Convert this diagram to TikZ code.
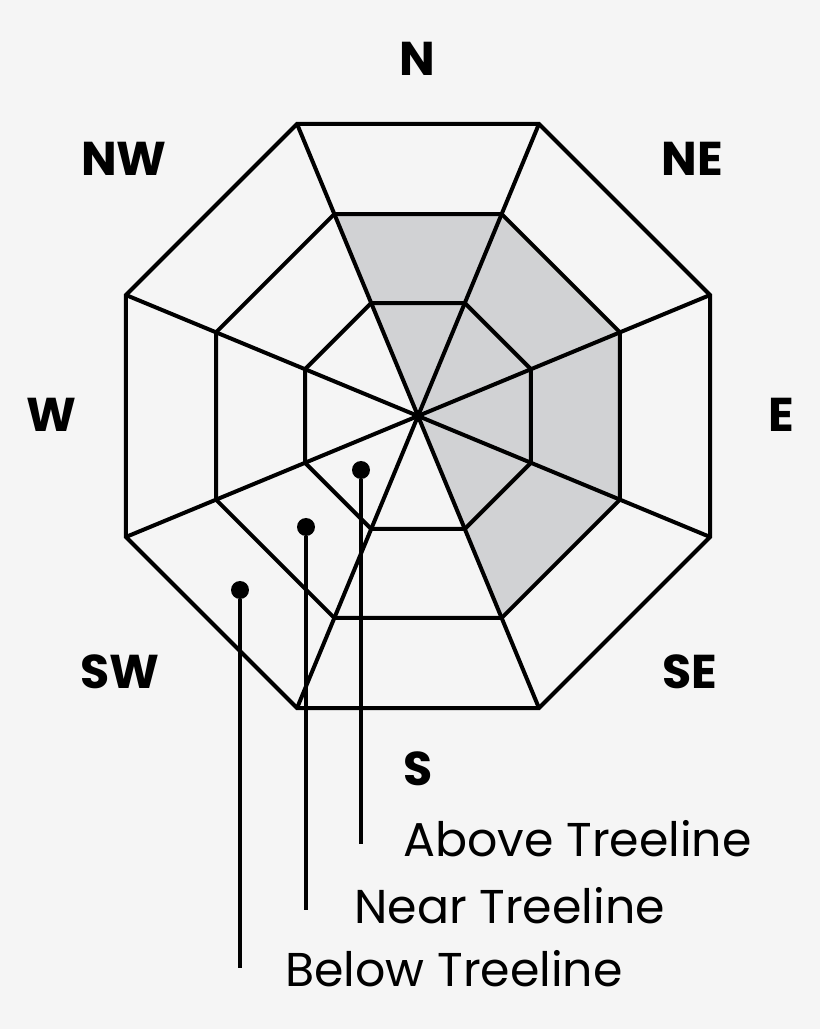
\documentclass[tikz,border=0pt]{standalone}
\usepackage{fontspec}
\setmainfont{Poppins}
\definecolor{paper}{HTML}{F5F5F5}
\definecolor{zone}{HTML}{D1D2D4}
\tikzset{
	rose/.style={line width=0.08cm, line join=miter},
	dirlabel/.style={font=\fontsize{27}{27}\selectfont\bfseries, anchor=base, inner sep=0pt},
	bandlabel/.style={font=\fontsize{27}{27}\selectfont, anchor=base west, inner sep=0pt},
	pin/.style={circle, fill=black, inner sep=0pt, minimum size=0.36cm},
	leader/.style={line width=0.075cm}
}
\begin{document}
\begin{tikzpicture}[x=0.02cm, y=0.02cm]
	\fill[paper] (0,0) rectangle (820,1029);
	\begin{scope}[shift={(418,613)}]
		\coordinate (c) at (0,0);
		\fill[zone] (c) -- (112.5:218.6) -- (67.5:218.6) -- (22.5:218.6) -- (-22.5:218.6) -- (-67.5:218.6) -- cycle;
		\foreach \r in {122.3,218.6,316.1}
			\draw[rose] (22.5:\r) \foreach \a in {67.5,112.5,...,337.5} {-- (\a:\r)} -- cycle;
		\foreach \a in {22.5,67.5,...,337.5}
			\draw[rose] (c) -- (\a:316.1);
	\end{scope}
	% compass points
	\node[dirlabel] (n) at (417,953) {N};
	\node[dirlabel] (ne) at (692,853) {NE};
	\node[dirlabel] (e) at (781,597) {E};
	\node[dirlabel] (se) at (690,340) {SE};
	\node[dirlabel] (s) at (418,243) {S};
	\node[dirlabel] (sw) at (120,340) {SW};
	\node[dirlabel] (w) at (51,597) {W};
	\node[dirlabel] (nw) at (124,853) {NW};
	% elevation bands
	\node[pin] (above) at (361,559) {};
	\node[pin] (near) at (306,502) {};
	\node[pin] (below) at (240,439) {};
	\coordinate (aboveend) at (361,185);
	\coordinate (nearend) at (306,119);
	\coordinate (belowend) at (240,61);
	\draw[leader] (above) -- (aboveend);
	\draw[leader] (near) -- (nearend);
	\draw[leader] (below) -- (belowend);
	\node[bandlabel] (abovetxt) at (403,172) {Above Treeline};
	\node[bandlabel] (neartxt) at (354,105) {Near Treeline};
	\node[bandlabel] (belowtxt) at (285,42) {Below Treeline};
\end{tikzpicture}
\end{document}
